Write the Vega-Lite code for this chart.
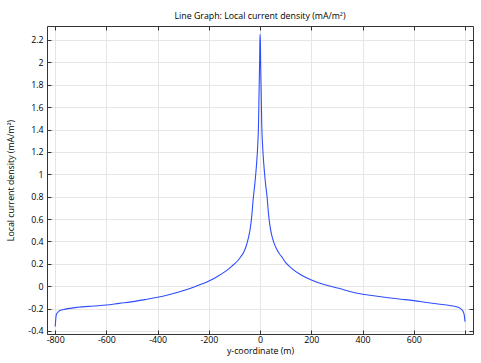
{
  "$schema": "https://vega.github.io/schema/vega-lite/v6.json",
  "width": 426,
  "height": 308,
  "autosize": {"type": "none"},
  "padding": {"left": 47, "top": 26, "right": 8, "bottom": 29},
  "title": {"text": "Line Graph: Local current density (mA/m²)", "fontSize": 8.8, "font": "Open Sans", "fontWeight": "normal", "color": "#000", "offset": 5},
  "config": {
    "view": {"stroke": null},
    "axis": {"labelFont": "Open Sans", "titleFont": "Open Sans", "labelFontSize": 8.8, "titleFontSize": 8.8, "titleFontWeight": "normal", "labelColor": "#000", "titleColor": "#000", "domainColor": "#333", "tickColor": "#333", "gridColor": "#e6e6e6", "gridWidth": 1, "tickSize": -4, "domainWidth": 1}
  },
  "data": {"values": [
    {"x": -800, "y": -0.36}, {"x": -798, "y": -0.30}, {"x": -796, "y": -0.257}, {"x": -790, "y": -0.235},
    {"x": -783, "y": -0.219}, {"x": -760, "y": -0.205}, {"x": -712, "y": -0.188}, {"x": -650, "y": -0.177},
    {"x": -600, "y": -0.168}, {"x": -550, "y": -0.153}, {"x": -497, "y": -0.138}, {"x": -450, "y": -0.12},
    {"x": -400, "y": -0.099}, {"x": -350, "y": -0.072}, {"x": -292, "y": -0.034}, {"x": -250, "y": 0.0},
    {"x": -200, "y": 0.046}, {"x": -170, "y": 0.083}, {"x": -137, "y": 0.13}, {"x": -110, "y": 0.18},
    {"x": -85, "y": 0.234}, {"x": -75, "y": 0.265}, {"x": -65, "y": 0.30}, {"x": -55, "y": 0.355},
    {"x": -47, "y": 0.42}, {"x": -39, "y": 0.51}, {"x": -33, "y": 0.62}, {"x": -27, "y": 0.78},
    {"x": -20, "y": 0.93}, {"x": -14, "y": 1.09}, {"x": -10, "y": 1.23}, {"x": -6.5, "y": 1.43},
    {"x": -4, "y": 1.75}, {"x": -2, "y": 2.0}, {"x": -1, "y": 2.18}, {"x": 0, "y": 2.25},
    {"x": 1, "y": 2.18}, {"x": 2, "y": 2.0}, {"x": 4, "y": 1.75}, {"x": 6.5, "y": 1.43},
    {"x": 10, "y": 1.24}, {"x": 14, "y": 1.1}, {"x": 20, "y": 0.94}, {"x": 27, "y": 0.80},
    {"x": 33, "y": 0.64}, {"x": 39, "y": 0.53}, {"x": 47, "y": 0.44}, {"x": 55, "y": 0.38},
    {"x": 65, "y": 0.33}, {"x": 75, "y": 0.29}, {"x": 84, "y": 0.264}, {"x": 100, "y": 0.21},
    {"x": 123, "y": 0.16}, {"x": 160, "y": 0.10}, {"x": 200, "y": 0.056}, {"x": 250, "y": 0.015},
    {"x": 307, "y": -0.018}, {"x": 350, "y": -0.047}, {"x": 400, "y": -0.072}, {"x": 450, "y": -0.088},
    {"x": 500, "y": -0.103}, {"x": 550, "y": -0.116}, {"x": 600, "y": -0.129}, {"x": 650, "y": -0.145},
    {"x": 695, "y": -0.159}, {"x": 740, "y": -0.172}, {"x": 773, "y": -0.188}, {"x": 785, "y": -0.205},
    {"x": 793, "y": -0.228}, {"x": 797, "y": -0.26}, {"x": 800, "y": -0.317}
  ]},
  "layer": [
    {
      "mark": {"type": "line", "color": "#2f4dff", "strokeWidth": 1.1, "clip": true, "interpolate": "monotone"},
      "encoding": {
        "x": {"field": "x", "type": "quantitative", "scale": {"domain": [-832, 831], "nice": false, "zero": false},
          "axis": {"orient": "bottom", "title": "y-coordinate (m)", "values": [-800, -600, -400, -200, 0, 200, 400, 600, 800], "labelExpr": "datum.value == 800 ? '' : replace(datum.label, '−', '-')", "format": "d", "labelPadding": 5, "titlePadding": 3, "grid": true}},
        "y": {"field": "y", "type": "quantitative", "scale": {"domain": [-0.427, 2.325], "nice": false, "zero": false},
          "axis": {"orient": "left", "title": "Local current density (mA/m²)", "values": [-0.4, -0.2, 0, 0.2, 0.4, 0.6, 0.8, 1, 1.2, 1.4, 1.6, 1.8, 2, 2.2], "format": ".1~f", "labelExpr": "replace(datum.label, '−', '-')", "labelPadding": 8, "titlePadding": 12, "grid": true}}
      }
    },
    {
      "mark": {"type": "line", "opacity": 0},
      "encoding": {
        "x": {"field": "x", "type": "quantitative", "scale": {"domain": [-832, 831], "nice": false, "zero": false},
          "axis": {"orient": "top", "title": null, "labels": false, "grid": false, "values": [-800, -600, -400, -200, 0, 200, 400, 600, 800]}},
        "y": {"field": "y", "type": "quantitative", "scale": {"domain": [-0.427, 2.325], "nice": false, "zero": false},
          "axis": {"orient": "right", "title": null, "labels": false, "grid": false, "values": [-0.4, -0.2, 0, 0.2, 0.4, 0.6, 0.8, 1, 1.2, 1.4, 1.6, 1.8, 2, 2.2]}}
      }
    }
  ],
  "resolve": {"axis": {"x": "independent", "y": "independent"}}
}
